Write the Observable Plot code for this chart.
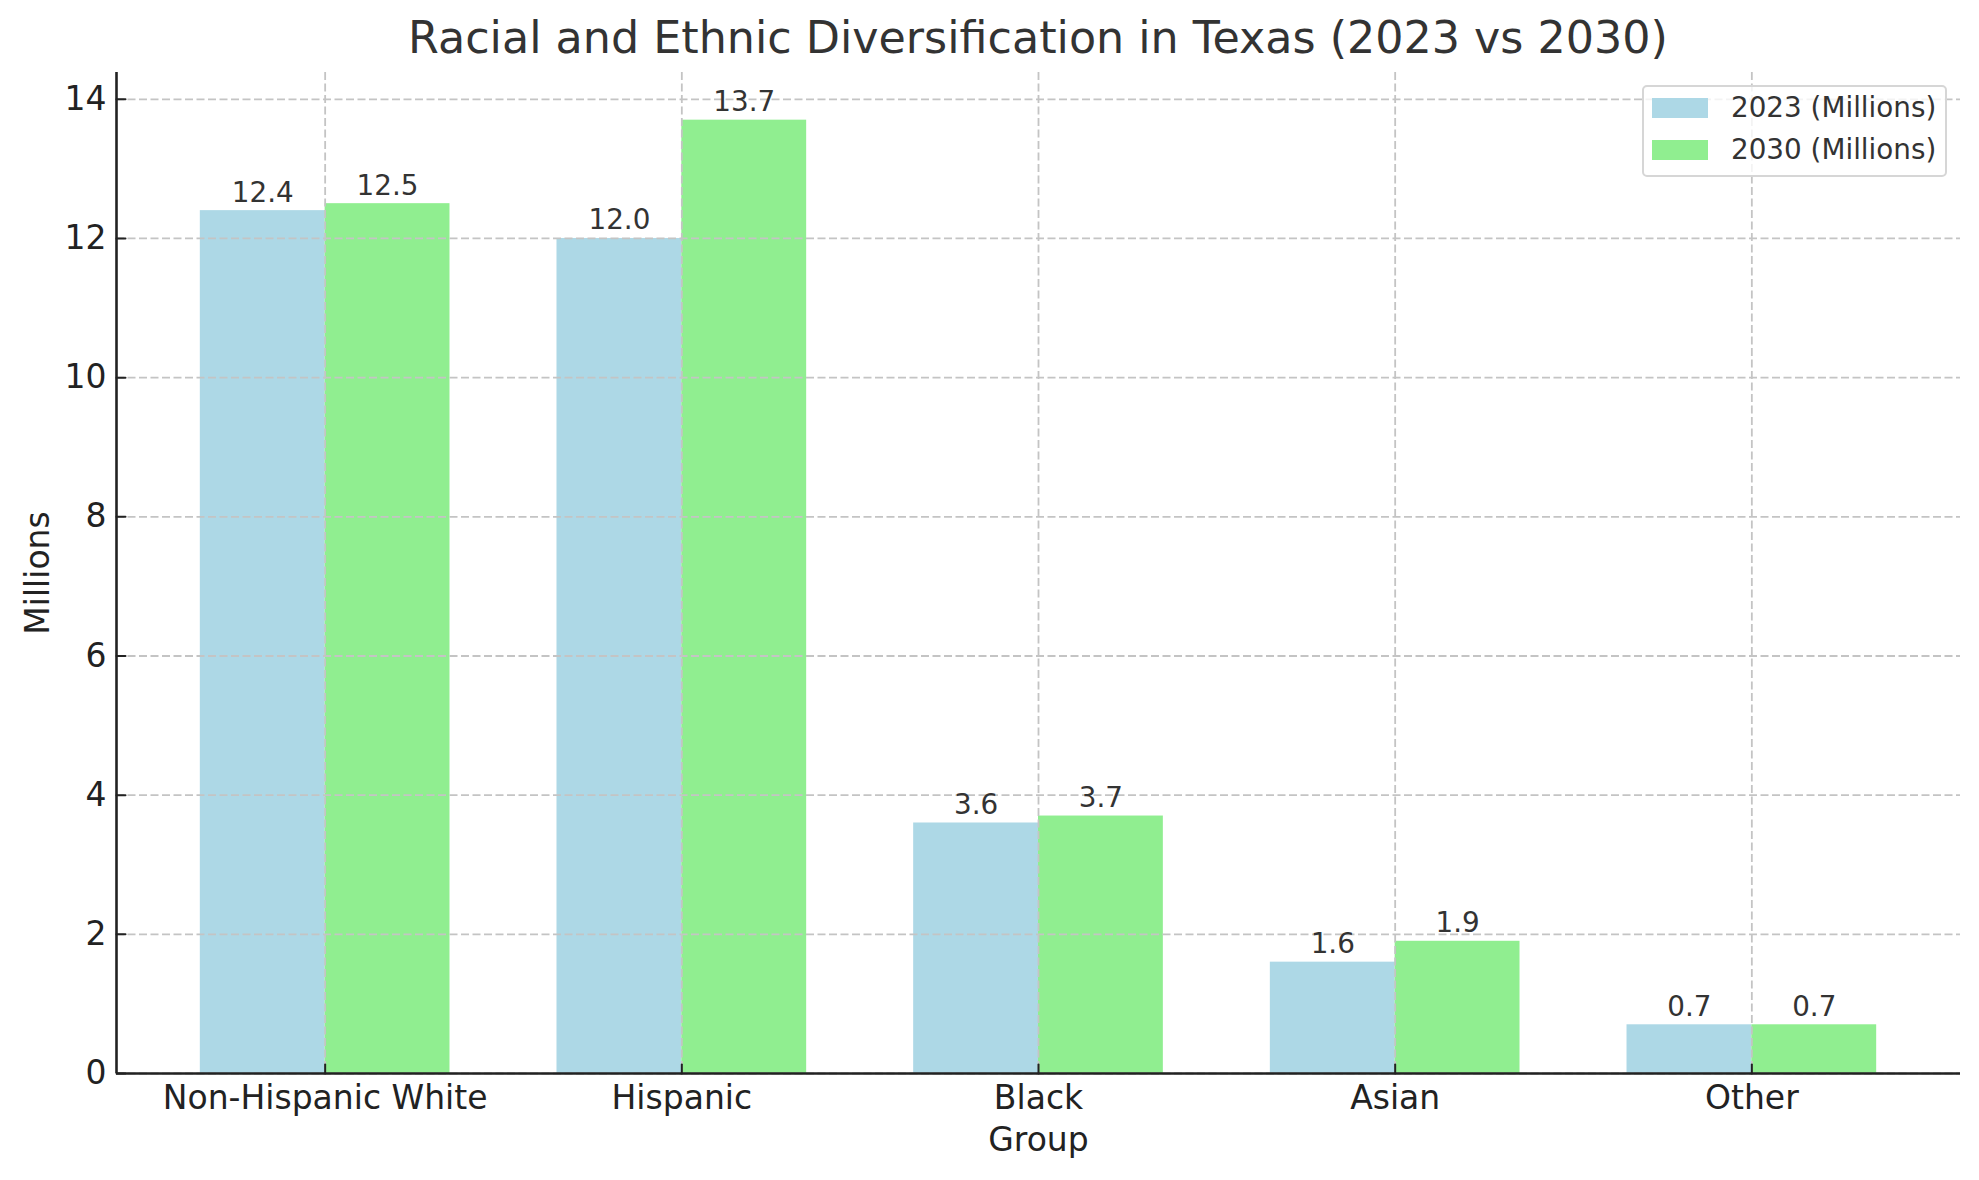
<!DOCTYPE html>
<html>
<head>
<meta charset="utf-8">
<script src="https://cdn.jsdelivr.net/npm/d3@7"></script>
<script src="https://cdn.jsdelivr.net/npm/@observablehq/plot@0.6"></script>
<style>
  html, body { margin: 0; padding: 0; background: #fff; overflow: hidden; }
  #wrap { position: relative; width: 1979px; height: 1180px; font-family: "DejaVu Sans", sans-serif; }
  #title { position: absolute; left: 1038px; top: 16px; transform: translateX(-50%); white-space: nowrap;
           font-size: 44.4px; line-height: 1; color: #333; }
  #chart { position: absolute; left: 0; top: 72px; }
  #legend { position: absolute; left: 1642px; top: 85px; width: 301px; height: 88px;
            border: 2px solid #d6d6d6; border-radius: 5px; background: rgba(255,255,255,0.8); }
  .item { position: absolute; left: 8px; height: 20px; }
  .sw { position: absolute; left: 0; top: 0; width: 56px; height: 20px; }
  .lab { position: absolute; left: 79px; top: -4px; font-size: 27.8px; line-height: 28px; color: #333; white-space: nowrap; }
</style>
</head>
<body>
<div id="wrap">
  <div id="title"></div>
  <div id="chart"></div>
  <div id="legend"></div>
</div>
<script>
const titleText = "Racial and Ethnic Diversification in Texas (2023 vs 2030)";
const groups = ["Non-Hispanic White", "Hispanic", "Black", "Asian", "Other"];
const seriesNames = ["2023 (Millions)", "2030 (Millions)"];
const values2023 = [12.4, 12.0, 3.6, 1.6, 0.7];
const values2030 = [12.5, 13.7, 3.7, 1.9, 0.7];
const yTicks = [0, 2, 4, 6, 8, 10, 12, 14];
const xLabel = "Group";
const yLabel = "Millions";

const colors = ["#ADD8E6", "#90EE90"];
const barW = 0.35;
const xDomain = [-0.585, 4.585];
const yDomain = [0, 14.385];

const rows = groups.flatMap((g, i) => [
  {i, group: g, series: seriesNames[0], value: values2023[i], x1: i - barW, x2: i},
  {i, group: g, series: seriesNames[1], value: values2030[i], x1: i, x2: i + barW}
]);
const xTicks = groups.map((g, i) => i);

document.getElementById("title").textContent = titleText;

const tickUp = {draw(context, l) { context.moveTo(0, 0); context.lineTo(0, -l); }};

const plot = Plot.plot({
  width: 1979,
  height: 1108,
  marginLeft: 116,
  marginRight: 19,
  marginTop: 0,
  marginBottom: 107,
  style: {fontFamily: "DejaVu Sans, sans-serif", fontSize: "33px", color: "#222", background: "transparent"},
  x: {type: "linear", domain: xDomain},
  y: {domain: yDomain},
  color: {domain: seriesNames, range: colors},
  marks: [
    Plot.rect(rows, {x1: "x1", x2: "x2", y1: 0, y2: "value", fill: "series"}),
    Plot.gridY(yTicks, {stroke: "#c4c4c4", strokeOpacity: 1, strokeWidth: 1.8, strokeDasharray: "8,3.5"}),
    Plot.gridX(xTicks, {stroke: "#c4c4c4", strokeOpacity: 1, strokeWidth: 1.8, strokeDasharray: "8,3.5"}),
    Plot.ruleY([0], {stroke: "#222", strokeWidth: 2.6}),
    Plot.ruleX([xDomain[0]], {stroke: "#222", strokeWidth: 2.6}),
    Plot.vector(xTicks, {x: d => d, y: 0, length: 9, rotate: 0, anchor: "start", shape: tickUp, stroke: "#222", strokeWidth: 2}),
    Plot.vector(yTicks, {x: xDomain[0], y: d => d, length: 9, rotate: 90, anchor: "start", shape: tickUp, stroke: "#222", strokeWidth: 2}),
    Plot.axisX({ticks: xTicks, tickFormat: i => groups[i], tickSize: 0, tickPadding: 12, label: null}),
    Plot.axisY({ticks: yTicks, tickFormat: d => String(d), tickSize: 0, tickPadding: 10, label: null}),
    Plot.text(rows, {x: d => (d.x1 + d.x2) / 2, y: "value", text: d => d.value.toFixed(1), dy: -18, fontSize: 27.8, fill: "#333"}),
    Plot.text([xLabel], {frameAnchor: "bottom", lineAnchor: "middle", textAnchor: "middle", dy: 67, fill: "#222"}),
    Plot.text([yLabel], {frameAnchor: "left", lineAnchor: "middle", textAnchor: "middle", dx: -78, rotate: -90, fill: "#222"})
  ]
});
document.getElementById("chart").appendChild(plot);

const legend = document.getElementById("legend");
seriesNames.forEach((name, k) => {
  const item = document.createElement("div");
  item.className = "item";
  item.style.top = (11 + k * 42) + "px";
  const sw = document.createElement("div");
  sw.className = "sw";
  sw.style.background = colors[k];
  const lab = document.createElement("div");
  lab.className = "lab";
  lab.textContent = name;
  item.appendChild(sw);
  item.appendChild(lab);
  legend.appendChild(item);
});
</script>
</body>
</html>
